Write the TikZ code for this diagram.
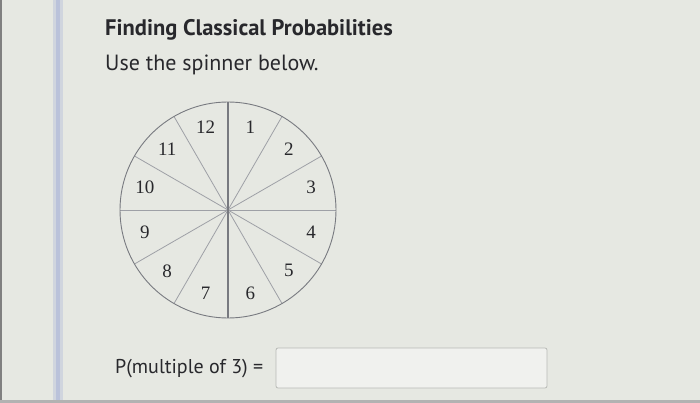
\documentclass[tikz,border=0pt]{standalone}
\usepackage{fontspec}
\usetikzlibrary{calc}
\setmainfont{Liberation Serif}
\newfontfamily\uisans{PT Sans}
\definecolor{bg}{RGB}{230,232,226}
\definecolor{screenline}{RGB}{186,194,218}
\definecolor{spoke}{RGB}{158,160,166}
\definecolor{rim}{RGB}{120,122,128}
\definecolor{txt}{RGB}{40,40,44}
\definecolor{boxline}{RGB}{184,186,182}
\tikzset{
  spokeline/.style={draw=spoke, line width=0.8pt},
  numlabel/.style={font=\fontsize{19}{19}\selectfont, text=txt, inner sep=0pt},
  uitext/.style={font=\uisans\fontsize{22}{22}\selectfont, text=txt, anchor=base west, inner sep=0pt},
}
\begin{document}
\begin{tikzpicture}[x=1pt,y=-1pt]
\useasboundingbox (0,0) rectangle (700,403);
\fill[bg] (0,0) rectangle (700,403);
\fill[black!50] (0,0) rectangle (1.5,403);
\fill[black!30] (0,400) rectangle (700,403);
\fill[screenline!50!bg] (53,0) rectangle (63,400);
\fill[screenline] (56,0) rectangle (60,400);
% title
\node[uitext, font=\uisans\bfseries\fontsize{22.5}{22.5}\selectfont] (title) at (105,36) {Finding Classical Probabilities};
\node[uitext] (sub) at (105,71) {Use the spinner below.};
% spinner
\coordinate (c) at (228,210);
\foreach \a in {0,30,60,120,150,180,210,240,300,330}
  \draw[spokeline] (c) -- ++({108*cos(\a)},{-108*sin(\a)});
\draw[draw=rim, line width=1.1pt] (c) -- ++(0,-108);
\draw[draw=rim, line width=1.1pt] (c) -- ++(0,108);
\draw[draw=rim, line width=0.9pt] (c) circle[radius=108];
\foreach \n [count=\k from 0] in {1,2,3,4,5,6,7,8,9,10,11,12}
  \node[numlabel] (n\n) at ($(c)+({86*cos(75-30*\k)},{-86*sin(75-30*\k)})$) {\n};
% answer line
\node[uitext, font=\uisans\fontsize{20}{20}\selectfont] (q) at (115,373) {P(multiple of 3) =};
\draw[boxline, line width=0.8pt, rounded corners=2pt, fill=bg!60!white] (276,348) rectangle (547,388);
\end{tikzpicture}
\end{document}
